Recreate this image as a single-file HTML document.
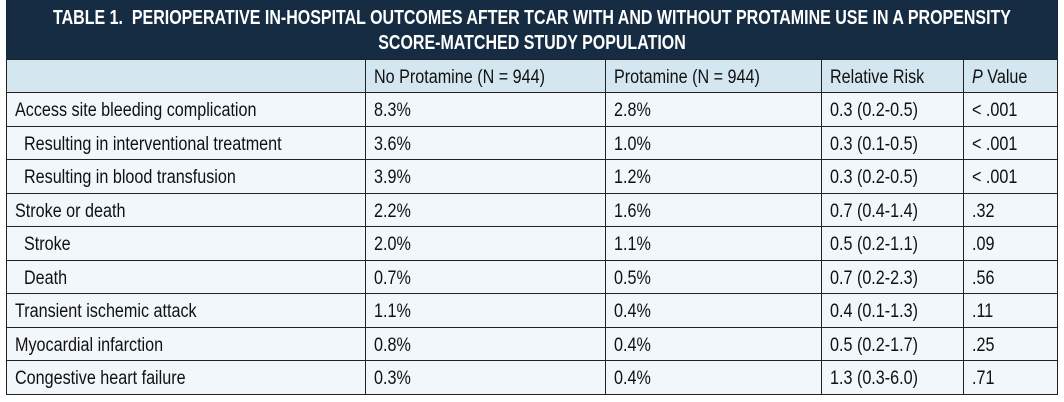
<!DOCTYPE html><html><head><style>
body{margin:0;width:1064px;height:402px;background:#fff;position:relative;overflow:hidden;font-family:"Liberation Sans",sans-serif;}
.t{position:absolute;left:6px;top:0;width:1052px;height:59px;background:#152c42;color:#fff;font-weight:bold;font-size:20px;line-height:25px;}
.t div{position:absolute;left:526px;white-space:nowrap;transform:translateX(-50%) scaleX(.8);}
.r{position:absolute;left:6px;width:1052px;background:#f1f7fa;}
.h{background:#d4e7f1;}
.c{position:absolute;top:0;height:33px;line-height:37px;font-size:19px;color:#111;white-space:nowrap;}
.c span{display:inline-block;transform:scaleX(.85);transform-origin:left center;}
.v{position:absolute;top:0;width:1px;background:#222;}
.hl{position:absolute;left:6px;width:1052px;height:1px;background:#222;}
</style></head><body>
<div class="t"><div style="top:6px">TABLE 1.&nbsp; PERIOPERATIVE IN-HOSPITAL OUTCOMES AFTER TCAR WITH AND WITHOUT PROTAMINE USE IN A PROPENSITY</div><div style="top:31px">SCORE-MATCHED STUDY POPULATION</div></div>
<div id="rows"></div>
<script>
var rows=[["",1,"No Protamine (N = 944)","Protamine (N = 944)","Relative Risk","<i>P</i> Value"],
["Access site bleeding complication",0,"8.3%","2.8%","0.3 (0.2-0.5)","&lt; .001"],
["&nbsp;&nbsp;Resulting in interventional treatment",0,"3.6%","1.0%","0.3 (0.1-0.5)","&lt; .001"],
["&nbsp;&nbsp;Resulting in blood transfusion",0,"3.9%","1.2%","0.3 (0.2-0.5)","&lt; .001"],
["Stroke or death",0,"2.2%","1.6%","0.7 (0.4-1.4)",".32"],
["&nbsp;&nbsp;Stroke",0,"2.0%","1.1%","0.5 (0.2-1.1)",".09"],
["&nbsp;&nbsp;Death",0,"0.7%","0.5%","0.7 (0.2-2.3)",".56"],
["Transient ischemic attack",0,"1.1%","0.4%","0.4 (0.1-1.3)",".11"],
["Myocardial infarction",0,"0.8%","0.4%","0.5 (0.2-1.7)",".25"],
["Congestive heart failure",0,"0.3%","0.4%","1.3 (0.3-6.0)",".71"]];
var ys=[59,92,126,159,193,226,260,293,327,360,394];
var xs=[15,374,614,830,972],vl=[365,605,821,963],h="";
rows.forEach(function(r,i){var top=ys[i],ht=ys[i+1]-ys[i];
h+='<div class="r'+(r[1]?' h':'')+'" style="top:'+top+'px;height:'+ht+'px">';
[r[0],r[2],r[3],r[4],r[5]].forEach(function(t,j){h+='<div class="c" style="left:'+(xs[j]-6)+'px"><span>'+t+'</span></div>';});
h+='</div>';});
ys.forEach(function(y){h+='<div class="hl" style="top:'+y+'px"></div>';});
[6,1057].concat(vl).forEach(function(x){h+='<div class="v" style="left:'+x+'px;top:59px;height:336px"></div>';});
document.getElementById('rows').innerHTML=h;
</script>
</body></html>
